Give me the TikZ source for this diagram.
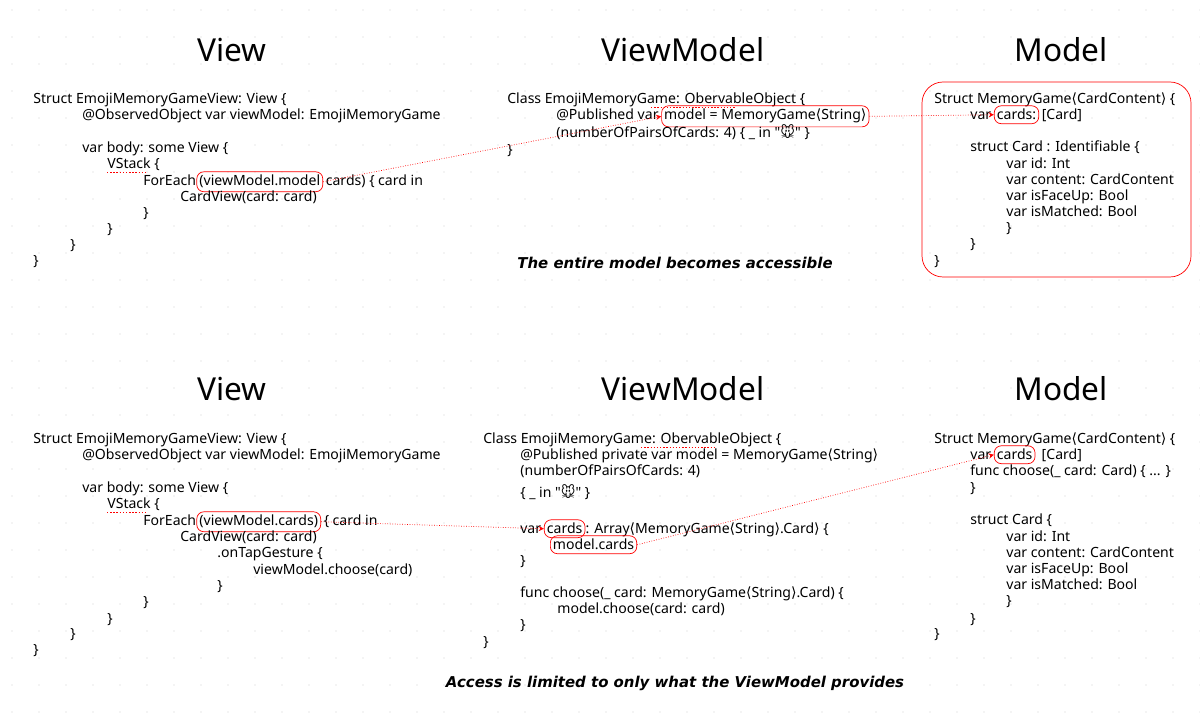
\documentclass[tikz,border=0pt]{standalone}
\usepackage{fontspec}
\setmainfont{Noto Sans}
\newfontfamily\emojifont{DejaVu Sans}
\newfontfamily\notefont{DejaVu Sans}
\usetikzlibrary{arrows.meta}
\tikzset{
  code/.style={anchor=base west,inner sep=0,font=\fontsize{8}{9.6}\selectfont},
  oval/.style={code,draw=red,rounded corners=4pt,inner xsep=1.5pt,inner ysep=2pt},
  head/.style={font=\fontsize{18}{20}\selectfont},
  note/.style={font=\notefont\fontsize{8.5}{11}\selectfont\bfseries\itshape},
  link/.style={red,densely dotted,-{Stealth[length=3pt,width=3pt]}},
  typo/.style={red,densely dotted,thick}
}
\newcommand{\mouse}{{\emojifont\char"1F42D}}
\newcommand{\la}{{\emojifont\char"27E8}}
\newcommand{\ra}{{\emojifont\char"27E9}}
\newcommand{\q}{\textquotedbl}
\begin{document}
\begin{tikzpicture}[x=0.02cm,y=-0.02cm]
  \useasboundingbox (0,0) rectangle (1200,715);
  % background dots
  \foreach \gx in {12,39,...,1200}
    \foreach \gy in {10,37,...,715}
      \fill[black!18] (\gx,\gy) circle (0.7);

  % headings
  \node[head] (hv1) at (232,50) {View};
  \node[head] (hvm1) at (683,50) {ViewModel};
  \node[head] (hm1) at (1061,50) {Model};
  \node[head] (hv2) at (232,389) {View};
  \node[head] (hvm2) at (683,389) {ViewModel};
  \node[head] (hm2) at (1061,389) {Model};

  % top: View
  \node[code] (tv1) at (33,104) {Struct EmojiMemoryGameView: View \{};
  \node[code] (tv2) at (82,120) {@ObservedObject var viewModel: EmojiMemoryGame};
  \node[code] (tv3) at (82,153) {var body: some View \{};
  \node[code] (tv4) at (107,169) {VStack \{};
  \node[code] (tv5) at (143,186) {ForEach};
  \node[oval] (tvo) at (tv5.base east) {(viewModel.model};
  \node[code] (tv5b) at (tvo.base east) {\,cards) \{ card in};
  \node[code] (tv6) at (180,202) {CardView(card: card)};
  \node[code] (tv7) at (143,218) {\}};
  \node[code] (tv8) at (107,234) {\}};
  \node[code] (tv9) at (70,250) {\}};
  \node[code] (tv10) at (33,266) {\}};

  % top: ViewModel
  \node[code] (tm1) at (507,104) {Class EmojiMemoryGame: ObervableObject \{};
  \node[code] (tm2) at (556,120) {@Published var\,};
  \node[oval] (tmo) at (tm2.base east) {model = MemoryGame\la String\ra};
  \node[code] (tm3) at (556,138) {(numberOfPairsOfCards: 4) \{ \_ in \q\mouse\q\ \}};
  \node[code] (tm4) at (507,155) {\}};

  % top: Model
  \node[code] (tp1) at (934,104) {Struct MemoryGame\la CardContent\ra\ \{};
  \node[code] (tp2) at (970,120) {var\,};
  \node[oval] (tpo) at (tp2.base east) {cards:};
  \node[code] (tp2b) at (tpo.base east) {\,[Card]};
  \node[code] (tp3) at (970,152) {struct Card : Identifiable \{};
  \node[code] (tp4) at (1006,169) {var id: Int};
  \node[code] (tp5) at (1006,185) {var content: CardContent};
  \node[code] (tp6) at (1006,201) {var isFaceUp: Bool};
  \node[code] (tp7) at (1006,217) {var isMatched: Bool};
  \node[code] (tp8) at (1006,233) {\}};
  \node[code] (tp9) at (970,249) {\}};
  \node[code] (tp10) at (934,266) {\}};
  \draw[red,rounded corners=12pt] (922,82) rectangle (1191,277);

  \node[note] (n1) at (675,263) {The entire model becomes accessible};

  % bottom: View
  \node[code] (bv1) at (33,444) {Struct EmojiMemoryGameView: View \{};
  \node[code] (bv2) at (82,460) {@ObservedObject var viewModel: EmojiMemoryGame};
  \node[code] (bv3) at (82,493) {var body: some View \{};
  \node[code] (bv4) at (107,509) {VStack \{};
  \node[code] (bv5) at (143,526) {ForEach};
  \node[oval] (bvo) at (bv5.base east) {(viewModel.cards)};
  \node[code] (bv5b) at (bvo.base east) {\,\{ card in};
  \node[code] (bv6) at (180,542) {CardView(card: card)};
  \node[code] (bv7) at (217,558) {.onTapGesture \{};
  \node[code] (bv8) at (253,575) {viewModel.choose(card)};
  \node[code] (bv9) at (217,591) {\}};
  \node[code] (bv10) at (143,607) {\}};
  \node[code] (bv11) at (107,623) {\}};
  \node[code] (bv12) at (70,639) {\}};
  \node[code] (bv13) at (33,655) {\}};

  % bottom: ViewModel
  \node[code] (bm1) at (483,444) {Class EmojiMemoryGame: ObervableObject \{};
  \node[code] (bm2) at (520,460) {@Published private var model = MemoryGame\la String\ra};
  \node[code] (bm3) at (520,476) {(numberOfPairsOfCards: 4)};
  \node[code] (bm4) at (520,498) {\{ \_ in \q\mouse\q\ \}};
  \node[code] (bm5) at (520,534) {var\,};
  \node[oval] (bmo) at (bm5.base east) {cards};
  \node[code] (bm5b) at (bmo.base east) {: Array\la MemoryGame\la String\ra.Card\ra\ \{};
  \node[oval] (bmc) at (550,550) {model.cards};
  \node[code] (bm7) at (520,566) {\}};
  \node[code] (bm8) at (520,598) {func choose(\_ card: MemoryGame\la String\ra.Card) \{};
  \node[code] (bm9) at (557,614) {model.choose(card: card)};
  \node[code] (bm10) at (520,630) {\}};
  \node[code] (bm11) at (483,646) {\}};

  % bottom: Model
  \node[code] (bp1) at (934,444) {Struct MemoryGame\la CardContent\ra\ \{};
  \node[code] (bp2) at (970,460) {var\,};
  \node[oval] (bpo) at (bp2.base east) {cards};
  \node[code] (bp2b) at (bpo.base east) {\, [Card]};
  \node[code] (bp3) at (970,476) {func choose(\_ card: Card) \{ ... \}};
  \node[code] (bp4) at (970,493) {\}};
  \node[code] (bp5) at (970,525) {struct Card \{};
  \node[code] (bp6) at (1006,542) {var id: Int};
  \node[code] (bp7) at (1006,558) {var content: CardContent};
  \node[code] (bp8) at (1006,574) {var isFaceUp: Bool};
  \node[code] (bp9) at (1006,590) {var isMatched: Bool};
  \node[code] (bp10) at (1006,606) {\}};
  \node[code] (bp11) at (970,623) {\}};
  \node[code] (bp12) at (934,639) {\}};

  \node[note] (n2) at (675,683) {Access is limited to only what the ViewModel provides};

  % spelling marks
  \draw[typo] ([yshift=-2pt]tv4.base west) -- ++(38,0);
  \draw[typo] ([xshift=-88pt,yshift=-2pt]tm1.base east) -- ++(84,0);
  \draw[typo] ([xshift=-80pt,yshift=-2pt]bm1.base east) -- ++(75,0);
  \draw[typo] ([yshift=-2pt]bv4.base west) -- ++(38,0);

  % connectors
  \draw[link] (tvo.east) -- (tmo.west);
  \draw[link] (tmo.east) -- (tpo.west);
  \draw[link] (bvo.east) -- (bmo.west);
  \draw[link] (bmc.east) -- (bpo.west);
\end{tikzpicture}
\end{document}
